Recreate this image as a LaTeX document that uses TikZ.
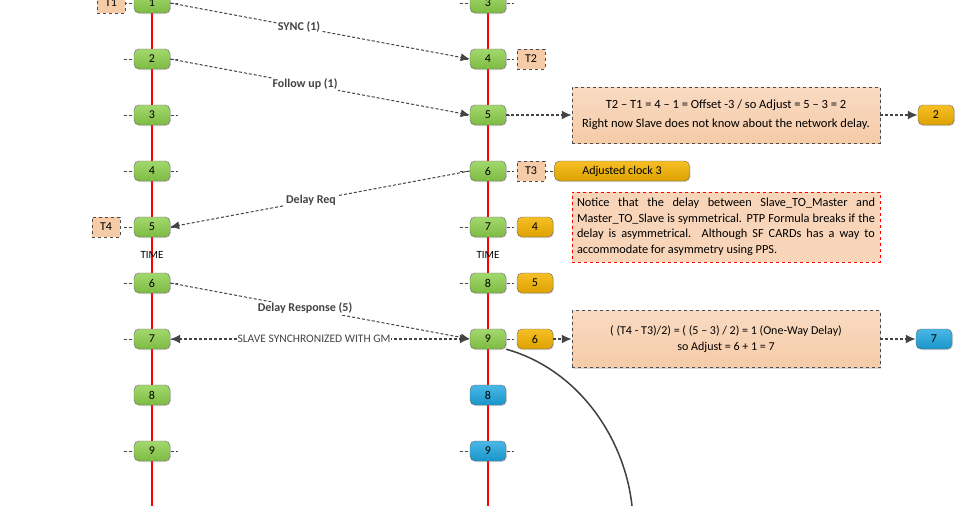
\documentclass[tikz,border=0pt]{standalone}
\usepackage{fontspec}
\setmainfont{Carlito}
\usetikzlibrary{arrows.meta,shadows}
\definecolor{gfill}{HTML}{8CCF4A}
\definecolor{ofill}{HTML}{F5B400}
\definecolor{bfill}{HTML}{1CA6E0}
\definecolor{pfill}{HTML}{F6CBA8}
\definecolor{agray}{HTML}{444444}
\begin{document}
\begin{tikzpicture}[x=1pt,y=-1pt,
  base/.style={rounded corners=5pt,minimum width=36pt,minimum height=20pt,inner sep=1pt,font=\fontsize{12}{13}\selectfont,draw=black!60,drop shadow={shadow xshift=1pt,shadow yshift=-1pt,opacity=.3}},
  gn/.style={base,top color=gfill!80!white,bottom color=gfill!90!black},
  on/.style={base,top color=ofill!85!white,bottom color=ofill!90!black},
  bn/.style={base,top color=bfill!80!white,bottom color=bfill!90!black},
  tb/.style={draw=black!70,dashed,fill=pfill,minimum width=28pt,minimum height=20pt,inner sep=1pt,font=\fontsize{12}{13}\selectfont},
  bigb/.style={draw=black!70,dashed,top color=pfill!70!white,bottom color=pfill,minimum width=308pt,align=center,font=\fontsize{12.5}{19}\selectfont,drop shadow={shadow xshift=1pt,shadow yshift=-1pt,opacity=.3}},
  msg/.style={dash pattern=on 3pt off 2pt,agray,line width=1pt,-{Latex[length=9pt,width=8pt]}},
  thk/.style={dash pattern=on 3pt off 2pt,agray,line width=1.8pt,-{Latex[length=10pt,width=9pt]}},
  lbl/.style={fill=white,inner sep=1pt,font=\bfseries\fontsize{12}{13}\selectfont},
  stub/.style={dash pattern=on 2.5pt off 2.5pt,agray,line width=1pt}]
\useasboundingbox (0,0) rectangle (964,506);
\fill[white] (0,0) rectangle (964,506);
\draw[red,line width=1.8pt] (152,0) -- (152,506);
\draw[red,line width=1.8pt] (488,0) -- (488,506);
% stubs
\foreach \y in {3,59,115,171,227,283,339,451}{
  \draw[stub] (124,\y) -- (133,\y); \draw[stub] (171,\y) -- (178,\y);
  \draw[stub] (460,\y) -- (469,\y); \draw[stub] (507,\y) -- (514,\y);}
% left nodes
\node[gn] (L1) at (152,3) {1};
\node[gn] (L2) at (152,59) {2};
\node[gn] (L3) at (152,115) {3};
\node[gn] (L4) at (152,171) {4};
\node[gn] (L5) at (152,227) {5};
\node[gn] (L6) at (152,283) {6};
\node[gn] (L7) at (152,339) {7};
\node[gn] (L8) at (152,395) {8};
\node[gn] (L9) at (152,451) {9};
\node[gn] (R3) at (488,3) {3};
\node[gn] (R4) at (488,59) {4};
\node[gn] (R5) at (488,115) {5};
\node[gn] (R6) at (488,171) {6};
\node[gn] (R7) at (488,227) {7};
\node[gn] (R8) at (488,283) {8};
\node[gn] (R9) at (488,339) {9};
\node[bn] (B8) at (488,395) {8};
\node[bn] (B9) at (488,451) {9};
\node[font=\fontsize{11}{12}\selectfont] (time1) at (152,255) {TIME};
\node[font=\fontsize{11}{12}\selectfont] (time2) at (488,255) {TIME};
% T boxes
\node[tb] (T1) at (111,3) {T1};
\node[tb] (T4) at (106,227) {T4};
\node[tb] (T2) at (531,59) {T2};
\node[tb] (T3) at (531,171) {T3};
\draw[stub] (545,171) -- (554,171);
\node[on,minimum width=135pt] (adj) at (622,171) {Adjusted clock 3};
\node[on] (O4) at (535,227) {4};
\node[on] (O5) at (535,283) {5};
\node[on] (O6) at (535,339) {6};
\node[on] (O2) at (936,115) {2};
\node[bn] (B7) at (934,339) {7};
% big boxes
\node[bigb,minimum height=56pt] (box1) at (726,115) {T2 -- T1 = 4 -- 1 = Offset -3 / so Adjust = 5 -- 3 = 2\\Right now Slave does not know about the network delay.};
\node[draw=red,dashed,fill=pfill!80!white,minimum width=308pt,minimum height=70pt,text width=298pt,align=justify,font=\fontsize{12.3}{15.5}\selectfont,inner sep=4pt] (note) at (726,227) {Notice that the delay between Slave\_TO\_Master and\linebreak Master\_TO\_Slave is symmetrical. PTP Formula breaks if the\linebreak delay is asymmetrical. Although SF CARDs has a way to\linebreak accommodate for asymmetry using PPS.};
\node[bigb,minimum height=57pt,font=\fontsize{12}{16}\selectfont] (box3) at (726,339) {( (T4 - T3)/2) = ( (5 -- 3) / 2) = 1 (One-Way Delay)\\so Adjust = 6 + 1 = 7};
% messages
\draw[msg] (L1.east) -- node[lbl,pos=.43] {SYNC (1)} (R4.west);
\draw[msg] (L2.east) -- node[lbl,pos=.45] {Follow up (1)} (R5.west);
\draw[msg] (R6.west) -- node[lbl,pos=.53] {Delay Req} (L5.east);
\draw[msg] (L6.east) -- node[lbl,pos=.45] {Delay Response (5)} (R9.west);
\draw[thk,{Latex[length=10pt,width=9pt]}-{Latex[length=10pt,width=9pt]}] (L7.east) -- node[fill=white,inner sep=1pt,font=\fontsize{11.5}{13}\selectfont,pos=.48] {SLAVE SYNCHRONIZED WITH GM} (R9.west);
\draw[thk] (R5.east) -- (box1.west);
\draw[thk] (box1.east) -- (O2.west);
\draw[thk] (O6.east) -- (box3.west);
\draw[thk] (box3.east) -- (B7.west);
\coordinate (cend) at (632,506);
\draw[black!75,line width=1.5pt] (R9.south east) .. controls (580,370) and (625,440) .. (cend);
\end{tikzpicture}
\end{document}
